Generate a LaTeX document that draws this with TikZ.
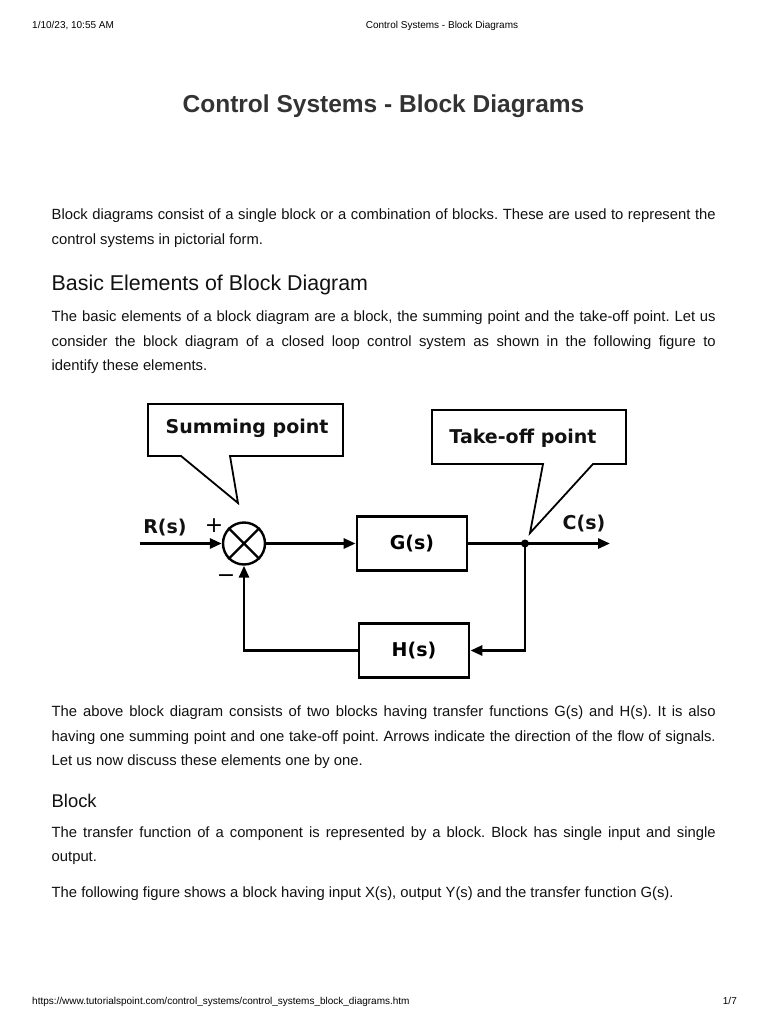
\documentclass[tikz,border=0pt]{standalone}
\usepackage{fontspec}
\setmainfont{Liberation Sans}
\newfontfamily\diag{DejaVu Sans}
\usetikzlibrary{arrows.meta}
\definecolor{txt}{HTML}{111111}
\definecolor{ttl}{HTML}{333333}
\newcommand\jl[1]{\makebox[664pt][s]{#1}}
\frenchspacing
\begin{document}
\begin{tikzpicture}[x=1pt,y=-1pt,
 hdr/.style={inner sep=0pt,text=black,font=\fontsize{10}{12}\selectfont},
 ttlstyle/.style={anchor=base,inner sep=0pt,text=ttl,font=\bfseries\fontsize{24.5}{28}\selectfont},
 headA/.style={anchor=base west,inner sep=0pt,text=txt,font=\fontsize{21.4}{24}\selectfont},
 headB/.style={anchor=base west,inner sep=0pt,text=txt,font=\fontsize{18.4}{22}\selectfont},
 body/.style={anchor=base west,inner sep=0pt,text=txt,font=\fontsize{14.8}{17}\selectfont},
 blk/.style={draw,line width=2.8pt,minimum width=110pt,minimum height=54pt,inner sep=0pt,font=\diag\bfseries\fontsize{19}{22}\selectfont},
 lab/.style={font=\diag\bfseries\fontsize{19}{22}\selectfont,inner sep=0pt,text=txt},
 sgn/.style={font=\diag\fontsize{22}{22}\selectfont,inner sep=0pt},
 sig/.style={line width=2.8pt},
 arr/.style={sig,-{Triangle[length=12pt,width=10pt]}},
 callout/.style={line width=1.8pt,line join=miter}]
\fill[white] (0,0) rectangle (768,1024);
\useasboundingbox (0,0) rectangle (768,1024);
% header
\node[hdr,anchor=base west] (h1) at (32,29) {1/10/23, 10:55 AM};
\node[hdr,anchor=base] (h2) at (442,29) {Control Systems - Block Diagrams};
% title
\node[ttlstyle] (title) at (383.5,113) {Control Systems - Block Diagrams};
% text
\node[body] (p1) at (51.5,219) {\jl{Block diagrams consist of a single block or a combination of blocks. These are used to represent the}};
\node[body] (p2) at (51.5,244) {control systems in pictorial form.};
\node[headA] (s1) at (51.5,290) {Basic Elements of Block Diagram};
\node[body] (p3) at (51.5,321) {\jl{The basic elements of a block diagram are a block, the summing point and the take-off point. Let us}};
\node[body] (p4) at (51.5,346) {\jl{consider the block diagram of a closed loop control system as shown in the following figure to}};
\node[body] (p5) at (51.5,370) {identify these elements.};
% diagram
\node[circle,draw,line width=2.4pt,minimum size=42pt,inner sep=0pt] (sum) at (244,543.5) {};
\draw[line width=2.4pt] (sum.north west) -- (sum.south east) (sum.north east) -- (sum.south west);
\node[blk] (G) at (412,543.5) {G(s)};
\node[blk] (H) at (414,650.5) {H(s)};
\node[circle,fill,inner sep=0pt,minimum size=8pt] (tp) at (525,543.5) {};
\coordinate (in) at (140,543.5);
\coordinate (out) at (610,543.5);
\draw[arr] (in) -- (sum.west);
\draw[arr] (sum.east) -- (G.west);
\draw[sig] (G.east) -- (tp.center);
\draw[arr] (tp.center) -- (out);
\draw[arr] (tp.center) |- (H.east);
\draw[arr] (H.west) -| (sum.south);
\node[lab] (R) at (165,528) {R(s)};
\node[lab] (C) at (584,524) {C(s)};
\node[sgn] (plus) at (214,526) {+};
\node[sgn] (minus) at (226,579) {−};
\draw[callout] (148,404) -- (343,404) -- (343,456) -- (230,456) -- (238,503) -- (181,456) -- (148,456) -- cycle;
\node[lab] (sp) at (247,428) {Summing point};
\draw[callout] (432,410) -- (626,410) -- (626,464) -- (593,464) -- (530,533) -- (543,464) -- (432,464) -- cycle;
\node[lab] (to) at (523,438) {Take-off point};
% text after
\node[body] (p6) at (51.5,716) {\jl{The above block diagram consists of two blocks having transfer functions G(s) and H(s). It is also}};
\node[body] (p7) at (51.5,741) {\jl{having one summing point and one take-off point. Arrows indicate the direction of the flow of signals.}};
\node[body] (p8) at (51.5,765) {Let us now discuss these elements one by one.};
\node[headB] (s2) at (51.5,807) {Block};
\node[body] (p9) at (51.5,837) {\jl{The transfer function of a component is represented by a block. Block has single input and single}};
\node[body] (p10) at (51.5,861) {output.};
\node[body] (p11) at (51.5,897) {The following figure shows a block having input X(s), output Y(s) and the transfer function G(s).};
% footer
\node[hdr,anchor=base west] (f1) at (32,1004) {https://www.tutorialspoint.com/control\_systems/control\_systems\_block\_diagrams.htm};
\node[hdr,anchor=base east] (f2) at (737,1004) {1/7};
\end{tikzpicture}
\end{document}
